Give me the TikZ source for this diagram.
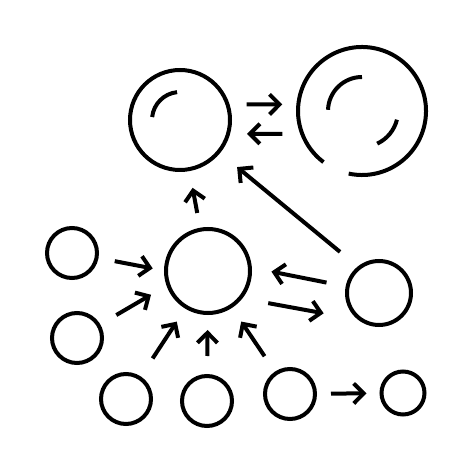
\documentclass[tikz,border=0pt]{standalone}
\usepackage{tikz}
\usetikzlibrary{arrows.meta, calc}
\tikzset{
  bubble/.style={circle,draw=black,line width=4pt,inner sep=0pt,outer sep=0pt,minimum size=#1},
  shine/.style={line width=4pt},
  flow/.style={line width=4pt,-{Straight Barb[length=10pt,width=20pt]}},
}

\begin{document}
\begin{tikzpicture}[x=1pt,y=1pt]
	    \useasboundingbox (0,0) rectangle (474,474);
	    \node[bubble=100pt] (A) at (180,354) {};
	    \node[bubble=128pt,draw=none] (B) at (362,363) {};
	    \node[bubble=84pt] (C) at (208,203) {};
	    \node[bubble=50pt] (D) at (72,221) {};
	    \node[bubble=50pt] (E) at (77,136) {};
	    \node[bubble=64pt] (F) at (379,181) {};
	    \node[bubble=50pt] (G) at (126,75) {};
	    \node[bubble=50pt] (H) at (207,73) {};
	    \node[bubble=50pt] (I) at (290,80) {};
	    \node[bubble=43pt] (J) at (403,81) {};
	    % highlights
	    \draw[shine] ([shift={(96:28pt)}]A.center) arc[start angle=96,end angle=174,radius=28pt];
	    \draw[shine] ([shift={(258:64pt)}]B.center) arc[start angle=258,end angle=593,radius=64pt];
	    \draw[shine] ([shift={(90:34pt)}]B.center) arc[start angle=90,end angle=178,radius=34pt];
	    \draw[shine] ([shift={(-65:36pt)}]B.center) arc[start angle=-65,end angle=-14,radius=36pt];
	    % arrows
	    \draw[flow,shorten <=19pt,shorten >=16pt] (A.18) -- (B.174);
	    \draw[flow,shorten <=20pt,shorten >=19pt] (B.201) -- (A.344);
	    \draw[flow,shorten <=25pt,shorten >=24pt] (F.128) -- (A);
	    \draw[flow,shorten <=17pt,shorten >=19pt] (C) -- (A);
	    \draw[flow,shorten <=18.5pt,shorten >=13.5pt] (D) -- (C.west);
	    \draw[flow,shorten <=20.5pt,shorten >=20pt] (E) -- (C.199);
	    \draw[flow,shorten <=21.5pt,shorten >=22pt] (F) -- (C.5);
	    \draw[flow,shorten <=28.5pt,shorten >=39.5pt] (C.320) -- (F.239);
	    \draw[flow,shorten <=23.5pt,shorten >=17.5pt] (G) -- (C.239);
	    \draw[flow,shorten <=20pt,shorten >=17pt] (H) -- (C);
	    \draw[flow,shorten <=20.5pt,shorten >=18.5pt] (I) -- (C.303);
	    \draw[flow,shorten <=16pt,shorten >=15pt] (I) -- (J);
\end{tikzpicture}
\end{document}
